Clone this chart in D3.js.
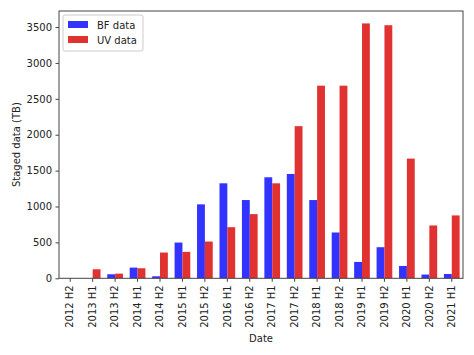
<!DOCTYPE html>
<html><head><meta charset="utf-8">
<script src="https://cdn.jsdelivr.net/npm/d3@7"></script>
<style>body{margin:0;background:#fff}svg{display:block}text{font-family:"DejaVu Sans",sans-serif}</style>
</head><body>
<script>
const categories = ["2012 H2","2013 H1","2013 H2","2014 H1","2014 H2","2015 H1","2015 H2","2016 H1","2016 H2","2017 H1","2017 H2","2018 H1","2018 H2","2019 H1","2019 H2","2020 H1","2020 H2","2021 H1"];
const bfData = [0,0,56,149,28,498,1030,1323,1090,1407,1453,1090,638,228,433,172,52,60];
const uvData = [0,126,65,140,359,368,512,712,894,1323,2119,2683,2683,3550,3525,1667,736,876];
const yTicks = [0,500,1000,1500,2000,2500,3000,3500];
const seriesNames = ["BF data","UV data"];
const colors = ["#3333ff","#e13232"];

const W = 474, H = 355;
const FS = "10px";
const m = {left:59, right:W-463, top:11, bottom:H-278.3};
const svg = d3.select("body").append("svg").attr("width",W).attr("height",H);
const x = d3.scaleBand().domain(categories).range([m.left, W-m.right]).paddingInner(0).paddingOuter(0);
const y = d3.scaleLinear().domain([0,3723]).range([H-m.bottom, m.top]);
const bw = x.bandwidth()*0.35;

const g = svg.append("g");
categories.forEach((c,i)=>{
  const cx = x(c)+x.bandwidth()/2;
  g.append("rect").attr("x",cx-bw).attr("width",bw).attr("y",y(bfData[i])).attr("height",y(0)-y(bfData[i])).attr("fill",colors[0]);
  g.append("rect").attr("x",cx).attr("width",bw).attr("y",y(uvData[i])).attr("height",y(0)-y(uvData[i])).attr("fill",colors[1]);
});

// frame
svg.append("rect").attr("x",m.left).attr("y",m.top).attr("width",W-m.right-m.left).attr("height",H-m.bottom-m.top)
  .attr("fill","none").attr("stroke","#444").attr("stroke-width",1);

const yAxis = svg.append("g").attr("transform",`translate(${m.left},0)`)
  .call(d3.axisLeft(y).tickValues(yTicks).tickSize(3.5).tickPadding(3.5).tickFormat(d3.format("d")));
yAxis.select(".domain").remove();
yAxis.selectAll("line").attr("stroke","#444");
yAxis.selectAll("text").attr("font-size",FS).attr("fill","#222").attr("font-family","DejaVu Sans");

const xAxis = svg.append("g").attr("transform",`translate(0,${H-m.bottom})`)
  .call(d3.axisBottom(x).tickSize(3.5).tickPadding(3.5));
xAxis.select(".domain").remove();
xAxis.selectAll("line").attr("stroke","#444");
xAxis.selectAll("text").attr("font-size",FS).attr("fill","#222").attr("font-family","DejaVu Sans")
  .attr("transform","rotate(-90)").attr("text-anchor","end").attr("dy","0.32em").attr("x",-7).attr("y",0);

svg.append("text").attr("x",(m.left+W-m.right)/2).attr("y",342).attr("text-anchor","middle")
  .attr("font-size",FS).attr("fill","#222").text("Date");
svg.append("text").attr("transform",`translate(20,${(m.top+H-m.bottom)/2}) rotate(-90)`).attr("text-anchor","middle")
  .attr("font-size",FS).attr("fill","#222").text("Staged data (TB)");

// legend
const lg = svg.append("g").attr("transform","translate(63,15)");
lg.append("rect").attr("width",80).attr("height",36).attr("rx",2).attr("fill","#fff").attr("fill-opacity",0.8).attr("stroke","#ccc");
seriesNames.forEach((s,i)=>{
  lg.append("rect").attr("x",5).attr("y",6+i*15).attr("width",20).attr("height",7).attr("fill",colors[i]);
  lg.append("text").attr("x",34).attr("y",13.5+i*15).attr("font-size",FS).attr("fill","#222").text(s);
});
</script>
</body></html>
